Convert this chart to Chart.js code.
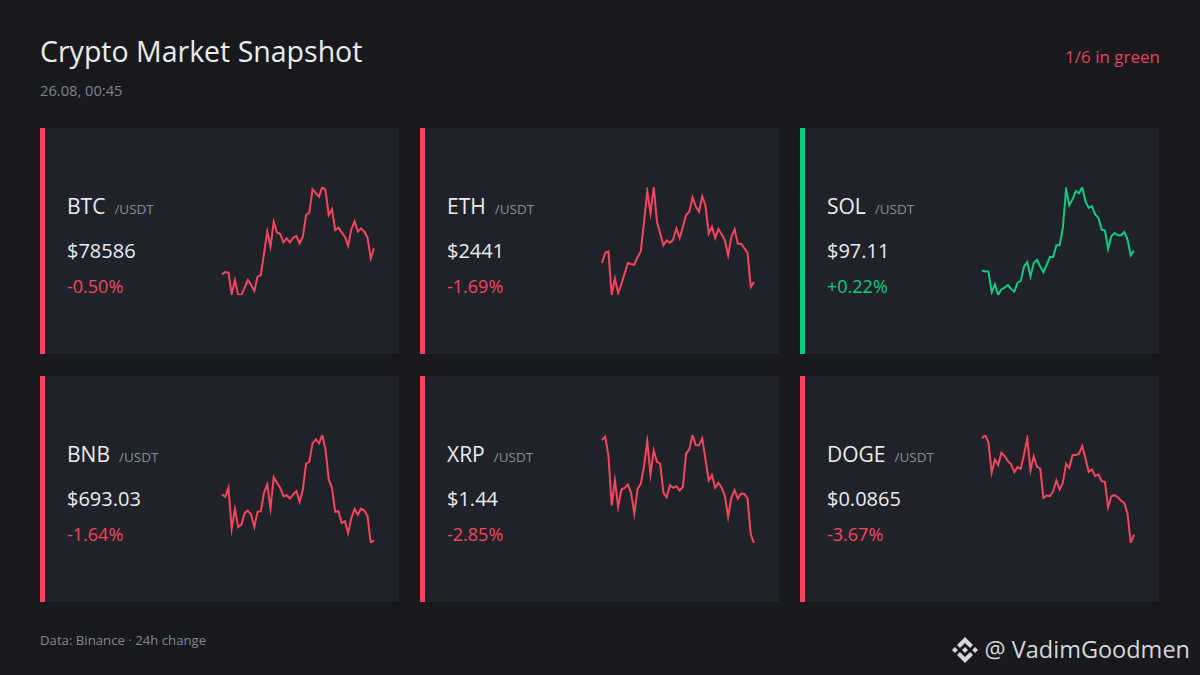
<!DOCTYPE html>
<html>
<head>
<meta charset="utf-8">
<script src="https://cdn.jsdelivr.net/npm/chart.js@4.4.1/dist/chart.umd.min.js"></script>
<style>
  html, body { margin:0; padding:0; }
  body { width:1200px; height:675px; background:#17191d; position:relative; overflow:hidden;
         font-family:"Open Sans", "Noto Sans", sans-serif; }
  .abs { position:absolute; line-height:1; white-space:nowrap; }
  #title { left:40px; top:37px; font-size:28.5px; color:#eaecef; }
  #date { left:40px; top:83px; font-size:14.7px; color:#7f838b; }
  #greens { right:40px; top:48px; font-size:17px; color:#e2455a; }
  #source { left:40px; top:634px; font-size:13.2px; color:#848890; }
  #wm { right:10px; top:637px; font-size:23.5px; color:#d6d8dc; display:flex; align-items:center; }
  #wm svg { width:26px; height:26px; margin-right:7px; position:relative; top:0px; }
  .card { position:absolute; width:359px; height:226px; background:#1f2229; }
  .stripe { position:absolute; left:0; top:0; width:5px; height:100%; }
  .sym { position:absolute; left:27px; top:68px; font-size:21px; color:#eaecef; line-height:1; white-space:nowrap; }
  .sym span { font-size:13.5px; color:#848e9c; margin-left:9px; }
  .price { position:absolute; left:27px; top:113px; font-size:20px; color:#eaecef; line-height:1; }
  .chg { position:absolute; left:27px; top:149px; font-size:18px; line-height:1; }
  .card canvas { position:absolute; left:180px; top:57px; }
</style>
</head>
<body>
<div class="abs" id="title">Crypto Market Snapshot</div>
<div class="abs" id="date">26.08, 00:45</div>
<div class="abs" id="greens">1/6 in green</div>
<div class="abs" id="source">Data: Binance · 24h change</div>
<div class="abs" id="wm"><svg viewBox="0 0 126.61 126.61"><path fill="#d6d8dc" d="M38.73 53.2l24.59-24.58 24.6 24.6 14.3-14.31L63.32 0 24.43 38.9l14.3 14.3zM0 63.31L14.3 49l14.31 14.31-14.31 14.3zM38.73 73.41l24.59 24.59 24.6-24.6 14.31 14.29-38.9 38.91-38.91-38.88-.02-.02 14.33-14.29zM98 63.31L112.3 49l14.31 14.3-14.31 14.32zM77.83 63.3L63.32 48.78 52.59 59.51l-1.24 1.230-2.54 2.54-.02.02.02.03 14.51 14.5 14.51-14.52.01-.01-.01-.01z"/></svg>@ VadimGoodmen</div>
<div id="cards"></div>
<script>
// ---- data ----
const symbols = ["BTC", "ETH", "SOL", "BNB", "XRP", "DOGE"];
const prices = ["$78586", "$2441", "$97.11", "$693.03", "$1.44", "$0.0865"];
const changes = [-0.50, -1.69, 0.22, -1.64, -2.85, -3.67];
const quote = "/USDT";

// sparkline values (relative units)
const btcSeries = [102,109,107,43,85,40,40,62,85,70,52,95,100,165,230,185,260,228,223,198,210,198,212,217,195,215,280,287,357,346,335,364,355,280,297,235,242,228,215,188,238,260,230,240,230,212,150,180];
const ethSeries = [138,168,172,43,92,48,75,107,138,135,133,155,172,260,350,285,363,260,225,190,205,198,207,240,212,245,280,290,332,305,290,335,308,225,245,212,238,223,205,160,215,238,195,195,182,168,67,82];
const solSeries = [113,110,110,48,72,40,57,62,70,58,50,77,82,125,138,95,135,145,125,108,130,153,153,188,188,240,355,308,325,350,343,362,318,300,305,280,270,235,232,178,215,225,218,218,228,205,158,172];
const bnbSeries = [190,183,210,87,147,93,100,135,142,130,93,138,140,195,220,148,242,225,210,185,188,178,190,200,168,205,282,288,343,355,343,368,325,235,210,138,140,105,110,75,120,147,130,148,142,125,45,53];
const xrpSeries = [353,363,305,157,232,153,205,210,220,195,132,207,222,275,350,250,322,288,282,195,182,218,210,215,202,212,312,325,368,337,337,358,295,232,248,210,225,210,185,123,180,203,178,193,192,178,70,45];
const dogeSeries = [358,368,345,255,295,278,315,305,290,280,257,272,267,310,358,262,305,273,268,180,187,185,200,232,205,225,282,270,308,308,312,335,298,258,265,245,250,230,228,152,185,188,182,172,165,132,45,70];
const seriesList = [btcSeries, ethSeries, solSeries, bnbSeries, xrpSeries, dogeSeries];

// ---- styles ----
const RED = "#f6465d", GREEN = "#0ecb81";
const cardLefts = [40, 420, 800];
const cardTops = [128, 376];

const holder = document.getElementById("cards");
symbols.forEach((sym, i) => {
  const up = changes[i] >= 0;
  const col = up ? GREEN : RED;
  const card = document.createElement("div");
  card.className = "card";
  card.style.left = cardLefts[i % 3] + "px";
  card.style.top = cardTops[Math.floor(i / 3)] + "px";
  card.innerHTML =
    '<div class="stripe" style="background:' + col + '"></div>' +
    '<div class="sym">' + sym + '<span>' + quote + '</span></div>' +
    '<div class="price">' + prices[i] + '</div>' +
    '<div class="chg" style="color:' + col + '">' + (up ? "+" : "") + changes[i].toFixed(2) + '%</div>';
  const cv = document.createElement("canvas");
  cv.width = 156; cv.height = 112;
  cv.style.width = "156px"; cv.style.height = "112px";
  card.appendChild(cv);
  holder.appendChild(card);

  const data = seriesList[i];
  new Chart(cv, {
    type: "line",
    data: {
      labels: data.map((_, k) => k),
      datasets: [{ data: data, borderColor: col, borderWidth: 2, pointRadius: 0, tension: 0, fill: false }]
    },
    options: {
      responsive: false,
      animation: false,
      layout: { padding: 2 },
      plugins: { legend: { display: false }, tooltip: { enabled: false } },
      scales: {
        x: { display: false, offset: false },
        y: { display: false, min: Math.min(...data), max: Math.max(...data) }
      }
    }
  });
});
</script>
</body>
</html>
